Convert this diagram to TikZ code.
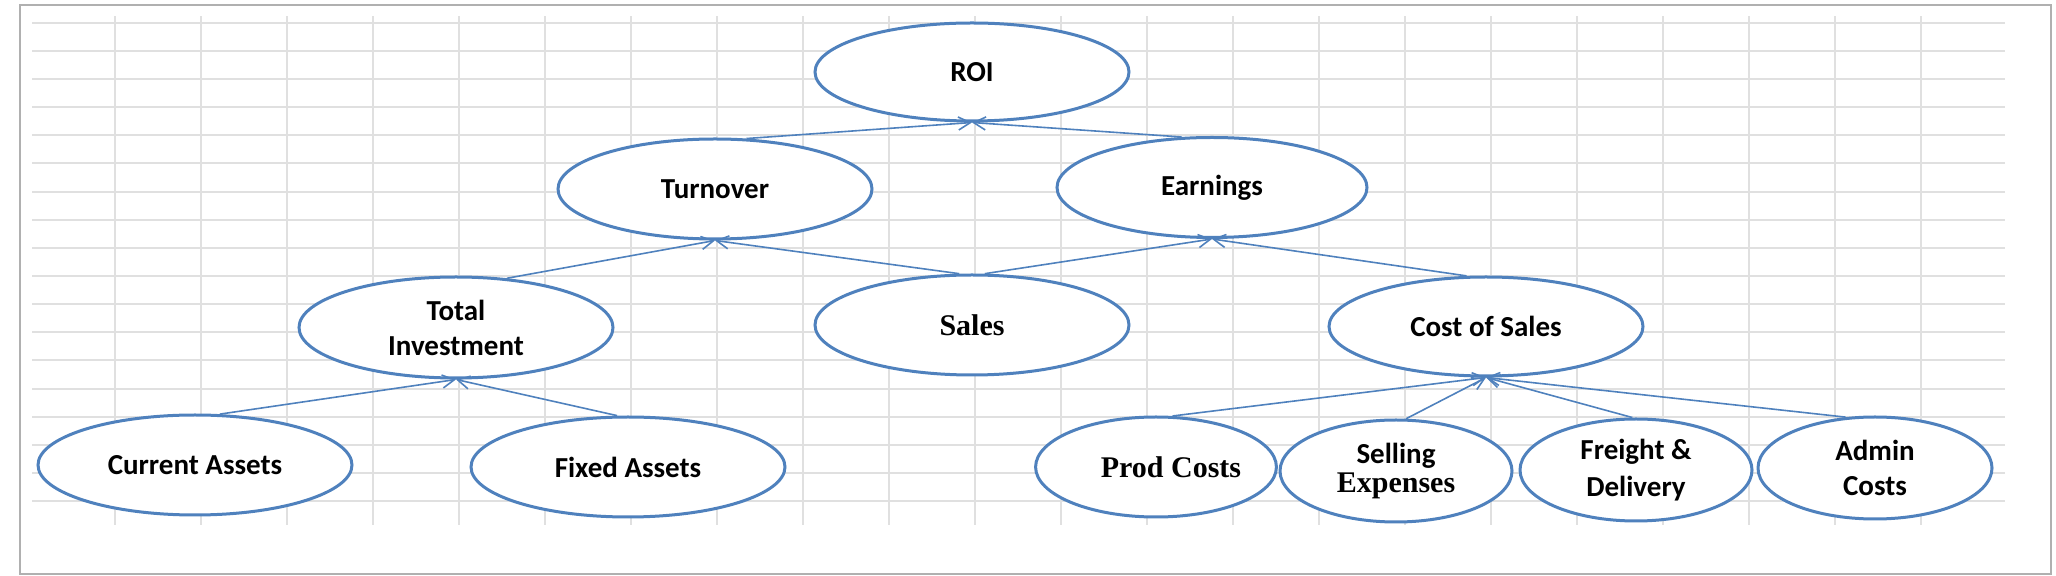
\documentclass[tikz,border=0pt]{standalone}
\usepackage{fontspec}
\usetikzlibrary{shapes.geometric,arrows.meta}
\newfontfamily\calfont{Carlito}
\newfontfamily\tnrfont{Liberation Serif}
\newcommand\calb{\calfont\bfseries\fontsize{14.5}{17.5}\selectfont}
\newcommand\tnrb{\tnrfont\bfseries\fontsize{15}{17.5}\selectfont}
\definecolor{eblue}{RGB}{79,129,189}
\definecolor{gridc}{RGB}{224,224,224}
\definecolor{framec}{RGB}{176,176,176}
\begin{document}
\begin{tikzpicture}[x=0.5pt,y=-0.5pt,
  oval/.style 2 args={ellipse,draw=eblue,line width=1.5pt,fill=white,inner sep=0pt,
    minimum width=#1pt,minimum height=#2pt,align=center,text=black},
  conn/.style={draw=eblue,line width=0.8pt,-{Straight Barb[length=6pt,width=6.5pt]}},
  gridline/.style={draw=gridc,line width=1pt},
  frameline/.style={draw=framec,line width=1.2pt}]
\useasboundingbox (0,0) rectangle (2056,576);
% spreadsheet grid
\foreach \k in {0,...,17}
  \draw[gridline] (32,{22.7+28.15*\k}) -- (2005,{22.7+28.15*\k});
\foreach \k in {0,...,21}
  \draw[gridline] ({115+86*\k},16) -- ({115+86*\k},525);
% frame
\draw[frameline] (20,5) rectangle (2051,574);
% nodes
\node[oval={157}{49},font=\calb] (roi) at (972,72) {ROI};
\node[oval={157}{50},font=\calb] (turn) at (715,189) {Turnover};
\node[oval={155}{50},font=\calb] (earn) at (1212,187.5) {Earnings};
\node[oval={157}{50.5},font=\calb] (ti) at (456,327.5) {Total\\Investment};
\node[oval={157}{50},font=\tnrb] (sales) at (972,325) {Sales};
\node[oval={157}{49.5},font=\calb] (cs) at (1486,326.5) {Cost of Sales};
\node[oval={157}{50},font=\calb] (ca) at (195,465) {Current Assets};
\node[oval={157}{50},font=\calb] (fa) at (628,467) {Fixed Assets};
\node[oval={116}{50},font=\tnrb] (pc) at (1156,467) {\hspace*{15pt}Prod Costs};
\node[oval={116}{51},font=\fontsize{14.5}{14.5}\selectfont] (se) at (1396,471) {{\calb Selling}\\{\tnrb Expenses}};
\node[oval={116}{51},font=\calfont\bfseries\fontsize{14.5}{18.5}\selectfont] (fd) at (1636,470) {Freight \&\\Delivery};
\node[oval={117}{51},font=\calfont\bfseries\fontsize{14.5}{17.75}\selectfont] (ac) at (1875,468) {Admin\\Costs};
% connectors
\draw[conn] (turn.58) -- (roi.south);
\draw[conn] (earn.121) -- (roi.south);
\draw[conn] (ti.44) -- (turn.south);
\draw[conn] (sales.104) -- (turn.south);
\draw[conn] (sales.76) -- (earn.south);
\draw[conn] (cs.111) -- (earn.south);
\draw[conn] (ca.64) -- (ti.south);
\draw[conn] (fa.102) -- (ti.south);
\draw[conn] (pc.72) -- (cs.south);
\draw[conn] (se.79) -- (cs.south);
\draw[conn] (fd.94) -- (cs.south);
\draw[conn] (ac.120) -- (cs.south);
\end{tikzpicture}
\end{document}
